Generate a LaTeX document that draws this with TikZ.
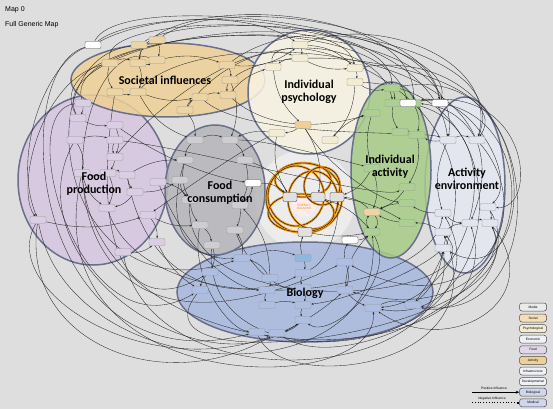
\documentclass[tikz,border=0pt]{standalone}
\usepackage{fontspec}
\setmainfont{Liberation Sans}
\newfontfamily\labfont{Carlito}
\usetikzlibrary{arrows.meta}
\definecolor{bgc}{RGB}{222,222,222}
\definecolor{centc}{RGB}{236,236,236}
\definecolor{ringc}{RGB}{105,112,140}
\definecolor{socc}{RGB}{238,208,150}
\definecolor{psyc}{RGB}{249,244,226}
\definecolor{fpc}{RGB}{214,198,224}
\definecolor{fcc}{RGB}{182,182,186}
\definecolor{actc}{RGB}{166,204,136}
\definecolor{envc}{RGB}{228,231,242}
\definecolor{bioc}{RGB}{166,183,221}
\definecolor{socb}{RGB}{236,212,164}
\definecolor{psyb}{RGB}{242,236,210}
\definecolor{fpb}{RGB}{218,206,228}
\definecolor{fcb}{RGB}{206,206,210}
\definecolor{actb}{RGB}{172,208,146}
\definecolor{envb}{RGB}{226,229,240}
\definecolor{biob}{RGB}{174,190,226}
\definecolor{orc}{RGB}{232,150,30}
\pgfdeclarelayer{bg}
\pgfdeclarelayer{cn}
\pgfsetlayers{bg,cn,main}
\begin{document}
\begin{tikzpicture}[x=1pt,y=-1pt,
  conn/.style={draw=black!85,line width=0.35pt,-{Stealth[length=2.4pt,width=1.8pt]}},
  bx/.style={draw=black!40,line width=0.3pt,rounded corners=1.2pt,minimum width=16pt,minimum height=7pt,inner sep=0pt},
  bigell/.style={draw=ringc,line width=1.5pt,fill opacity=0.85},
  lab/.style={font=\labfont\bfseries\fontsize{12}{13}\selectfont,align=center,text=black},
  legbox/.style={draw=black!70,line width=0.5pt,rounded corners=2.5pt,minimum width=27pt,minimum height=8pt,inner sep=0pt,font=\fontsize{3.3}{4}\selectfont},
  ring/.style={draw=black,line width=0.35pt,preaction={draw=orc,line width=2.2pt}},
  ttl/.style={font=\fontsize{7}{8}\selectfont,anchor=west,inner sep=0pt}
]
\useasboundingbox (0,0) rectangle (553,409);
\begin{pgfonlayer}{bg}
\fill[bgc] (0,0) rectangle (553,409);
\fill[centc] (305,200) circle (50);
\filldraw[bigell,fill=bioc] (305,292) ellipse (128 and 50);
\filldraw[bigell,fill=fpc] (93,180) ellipse (75 and 85);
\filldraw[bigell,fill=socc] (168,80) ellipse (97 and 37);
\filldraw[bigell,fill=psyc] (309,92) ellipse (61 and 62);
\filldraw[bigell,fill=envc] (465,185) ellipse (40 and 88);
\filldraw[bigell,fill=actc] (391,170) ellipse (40 and 88);
\filldraw[bigell,fill=fcc] (215,190) ellipse (50 and 65);
\fill[red!8!white] (304,205) circle (12);
\end{pgfonlayer}

% nodes
\foreach \n/\x/\y in {s1/139/45,s2/157/40,s3/110/63,s4/138/63,s5/157/60,s6/115/92,s7/138/92,s8/227/65,s9/230/80,s10/228/95,s11/200/97,s12/185/110}
  \node[bx,fill=socb] (\n) at (\x,\y) {};
\foreach \n/\x/\y in {p1/300/45,p2/300/58,p3/273/67,p4/355/68,p5/355/82,p7/277/133,p8/330/140}
  \node[bx,fill=psyb] (\n) at (\x,\y) {};
\node[bx,fill=socc] (p6) at (303,125) {};
\foreach \n/\x/\y in {f1/83/103,f2/78/118,f3/115/125,f4/75/140,f5/115/140,f6/115/157,f7/82/173,f8/108/173,f9/127/175,f10/135/192,f11/107/208,f12/38/220,f13/148/215,f14/123/252,f15/158/182,f16/157/242}
  \node[bx,fill=fpb] (\n) at (\x,\y) {};
\foreach \n/\x/\y in {k1/195/140,k2/230/140,k3/185/160,k4/245/160,k5/190/200,k6/240/205,k7/200/225,k8/235/230,k9/212/245,k10/180/180}
  \node[bx,fill=fcb] (\n) at (\x,\y) {};
\foreach \n/\x/\y in {a1/392/88,a2/393/103,a3/413/103,a4/372/113,a5/400/132,a6/417/135,a7/372/168,a8/407/187,a9/407/203,a10/407/223,a12/372/232}
  \node[bx,fill=actb] (\n) at (\x,\y) {};
\node[bx,fill=socb] (a11) at (372,212) {};
\foreach \n/\x/\y in {e1/448/140,e2/477/140,e3/443/213,e4/470/223,e5/490/223,e6/443/232,e7/443/248,e8/488/207}
  \node[bx,fill=envb] (\n) at (\x,\y) {};
\foreach \n/\x/\y in {b2/303/273,b3/303/288,b4/303/305,b5/303/320,b6/270/278,b7/267/290,b8/267/305,b9/242/258,b10/210/272,b11/200/290,b12/345/262,b13/345/290,b14/373/308,b15/413/305,b16/257/332,b17/277/333}
  \node[bx,fill=biob] (\n) at (\x,\y) {};
\node[bx,fill=cyan!25!biob] (b1) at (303,258) {};
\foreach \n/\x/\y in {c1/290/197,c2/318/197,c3/337/197,c4/305/232}
  \node[bx,fill=black!12,draw=black!80,minimum width=14pt,minimum height=9pt] (\n) at (\x,\y) {};
\foreach \n/\x/\y in {c5/253/183,o1/93/45,o2/408/103,o3/440/103,o4/350/240}
  \node[bx,fill=white,draw=black!70] (\n) at (\x,\y) {};

% center rings
\begin{pgfonlayer}{cn}
\draw[ring] (304,198) ellipse (38 and 35);
\draw[ring] (303,180) ellipse (28 and 17);
\draw[ring] (296,196) ellipse (28 and 30);
\draw[ring] (313,200) ellipse (25 and 29);
\draw[ring] (301,213) ellipse (33 and 19);
\draw[ring] (322,186) ellipse (18 and 19);

% short connectors
\foreach \a/\b/\t in {s3/s4/20,s4/s5/-20,s1/s4/15,s2/s5/20,s6/s7/-15,s4/s7/20,s8/s9/20,s9/s10/-20,s11/s10/15,s3/s6/-25,s5/s8/15,s7/s11/-15,s12/s11/20,
  p1/p2/20,p2/p3/-15,p4/p5/20,p3/p6/-20,p6/p7/15,p5/p8/20,p2/p4/-15,p1/p4/20,
  f1/f2/20,f2/f3/-15,f4/f5/15,f3/f6/20,f5/f6/-20,f6/f8/15,f7/f8/-15,f8/f9/20,f9/f10/-15,f10/f11/20,f12/f13/-15,f13/f16/20,f14/f16/-20,f8/f11/25,f7/f11/-20,f4/f7/20,
  k1/k2/20,k3/k5/-20,k4/k6/20,k5/k7/-15,k6/k8/15,k7/k9/20,k10/k5/-20,k2/k4/20,k1/k3/-20,
  a1/a2/20,a2/a5/-20,a3/a6/20,a4/a7/-15,a5/a6/15,a7/a11/20,a8/a11/15,a9/a11/-10,a10/a11/10,a12/a11/40,a11/a12/40,a6/a8/20,
  e1/e2/20,e3/e4/-20,e4/e5/20,e6/e4/15,e7/e6/-20,e8/e5/20,e1/e3/-20,
  b1/b2/20,b2/b3/-20,b3/b4/20,b4/b5/-20,b6/b7/20,b7/b8/-20,b8/b4/15,b9/b1/20,b10/b11/-20,b12/b13/20,b13/b14/-15,b14/b15/20,b16/b17/-20,b5/b17/15,b6/b9/-20,
  s10/p3/15,s9/k2/20,s7/k1/-20,f9/k3/15,f10/k10/-15,f15/k5/20,k6/c5/-20,k4/c1/20,p6/c2/20,p7/k2/-15,a11/c3/-20,a7/c3/20,
  e3/a9/15,e6/a10/-15,b1/c4/20,b9/k8/-20,k9/b10/20,f16/b11/-15,b13/a12/20,b15/e7/-20,p8/a4/15,p5/a1/-20,s8/p1/-20,s12/k1/20,f13/k7/-15,b12/o4/20,o4/a12/-20,
  e1/a6/15,e2/a3/-25,o2/a2/20,o3/a3/-20,b6/k6/-20,c5/c1/20,p7/c1/-20,c3/a10/10,c2/a12/15,c4/a12/-10}
  \draw[conn] (\a) to[bend left=\t] (\b);

% long connectors
\foreach \a/\b/\p/\q/\r/\s in {o1/e1/150/0/430/10, s2/o3/220/-5/430/20, s1/e2/200/5/520/30, f1/o2/60/30/380/0,
  o1/p1/150/15/250/10, s3/a1/100/10/390/10, p1/e2/380/15/500/60, s8/o3/300/10/430/40, f2/p4/40/40/340/0,
  p4/b15/555/40/560/330, a1/e7/545/60/540/300, o3/b13/555/130/530/340, e2/b12/545/220/470/330,
  p5/b14/530/90/500/330, o2/e8/530/80/540/210, o1/b16/5/70/30/390, f1/b11/10/110/80/360, s3/f12/40/80/15/190,
  f12/b17/20/340/160/400, f14/e7/150/405/460/385, f12/a12/70/390/390/400, b16/e6/280/395/500/370,
  k9/e3/200/400/520/350, f4/b5/10/260/200/395, o1/f12/50/60/10/150, s1/b9/20/60/60/320, f7/e4/100/390/520/380,
  s6/b10/90/250/130/320, p7/f13/240/150/170/200, s10/a4/280/140/350/120, f3/c5/180/170/230/180, k2/a7/270/140/340/160,
  s11/e1/250/140/420/130, f5/a8/200/150/380/200, k8/b3/250/270/280/290, e7/b4/420/270/350/300, p6/a9/330/170/380/200,
  f15/b7/190/260/240/290, b17/e5/350/380/520/280, s12/a2/250/20/380/40, f6/p2/160/100/250/40, f11/e3/150/330/430/300,
  a12/b5/400/280/330/340, k7/b16/190/280/230/330, e8/b15/520/260/460/320, s9/e2/300/30/520/80, e5/b14/550/300/450/360,
  a3/e8/470/90/520/180, b2/c3/330/260/340/220, s4/a3/150/-10/420/0, o1/o3/120/-15/460/30, f2/e1/20/20/470/-10,
  s5/b12/60/30/10/420, f12/b13/-10/300/200/420, f7/b14/30/400/380/400, k5/e6/180/330/500/300, s7/e4/200/20/545/40,
  p3/b15/260/10/560/100, b11/e5/120/390/545/330, f9/b2/150/300/250/300, k3/b9/160/240/200/260, o2/b14/520/130/470/300}
  \draw[conn] (\a) .. controls (\p,\q) and (\r,\s) .. (\b);
\end{pgfonlayer}

% labels
\node[lab] at (165,80) {Societal influences};
\node[lab] at (309,92) {Individual\\psychology};
\node[lab] at (94,184) {Food\\production};
\node[lab] at (220,193) {Food\\consumption};
\node[lab] at (390,167) {Individual\\activity};
\node[lab] at (467,179) {Activity\\environment};
\node[lab] at (305,293) {Biology};
\node[font=\fontsize{3}{3.5}\selectfont,text=orc,align=center] (eb) at (304,207) {ENERGY\\BALANCE};

% title
\node[ttl] (t1) at (5,10) {Map 0};
\node[ttl] (t2) at (5,25) {Full Generic Map};

% legend
\node[legbox,fill=black!8] (l1) at (533,307) {Media};
\node[legbox,fill=socc!70] (l2) at (533,318) {Social};
\node[legbox,fill=psyb] (l3) at (533,328.6) {Psychological};
\node[legbox,fill=envc!60!white] (l4) at (533,339.2) {Economic};
\node[legbox,fill=fpc!70] (l5) at (533,349.8) {Food};
\node[legbox,fill=socc] (l6) at (533,360.4) {Activity};
\node[legbox,fill=envc!60!white] (l7) at (533,371) {Infrastructure};
\node[legbox,fill=envc!60!white] (l8) at (533,381.6) {Developmental};
\node[legbox,fill=bioc!55] (l9) at (533,392.2) {Biological};
\node[legbox,fill=bioc!55] (l10) at (533,402.8) {Medical};
\coordinate (ps) at (472,392.2);
\coordinate (ns) at (472,402.8);
\draw[line width=0.6pt,-{Stealth[length=3.5pt,width=3pt]}] (ps) -- (l9.west);
\draw[line width=0.8pt,dotted,-{Square[length=2.5pt,width=2.5pt]}] (ns) -- (l10.west);
\node[font=\fontsize{3.3}{4}\selectfont] (pl) at (494,388.5) {Positive Influence};
\node[font=\fontsize{3.3}{4}\selectfont] (nl) at (492,399) {Negative Influence};
\end{tikzpicture}
\end{document}
